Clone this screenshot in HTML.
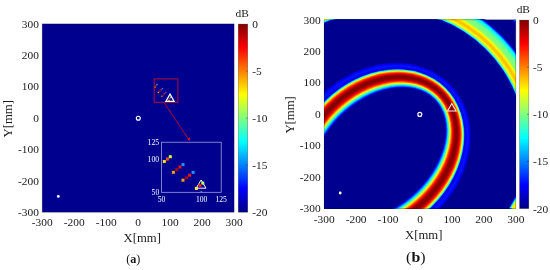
<!DOCTYPE html>
<html lang="en"><head><meta charset="utf-8"><title>Figure</title>
<style>html,body{margin:0;padding:0;background:#fff;}body{width:550px;height:270px;overflow:hidden;}svg{display:block;font-family:'Liberation Serif', 'DejaVu Serif', serif;}</style>
</head><body>
<svg width="550" height="270" viewBox="0 0 550 270">
<defs>
<linearGradient id="jet" x1="0" y1="0" x2="0" y2="1"><stop offset="0" stop-color="#800000"/><stop offset="0.125" stop-color="#ff0000"/><stop offset="0.375" stop-color="#ffff00"/><stop offset="0.625" stop-color="#00ffff"/><stop offset="0.875" stop-color="#0000ff"/><stop offset="1" stop-color="#000083"/></linearGradient>
<clipPath id="clipR"><rect x="324.20" y="19.80" width="191.60" height="188.80"/></clipPath>
<radialGradient id="cg" cx="1" cy="0" r="1"><stop offset="0" stop-color="#30d0ff"/><stop offset="0.45" stop-color="#0030ff" stop-opacity="0.8"/><stop offset="1" stop-color="#0000c0" stop-opacity="0"/></radialGradient>
<linearGradient id="brg" gradientUnits="userSpaceOnUse" x1="507.6" y1="208.6" x2="513.4" y2="211.9"><stop offset="0" stop-color="#00008f"/><stop offset="0.14" stop-color="#0000f0"/><stop offset="0.3" stop-color="#00e0ff"/><stop offset="0.42" stop-color="#80ff80"/><stop offset="0.56" stop-color="#f8f800"/><stop offset="1" stop-color="#ffd800"/></linearGradient>
</defs>
<rect width="550" height="270" fill="#fff"/>
<rect x="42.20" y="23.90" width="191.90" height="188.30" fill="#00008f"/>
<circle cx="138.3" cy="118.2" r="1.95" fill="none" stroke="#fff" stroke-width="1.2"/>
<circle cx="58.3" cy="196.4" r="1.4" fill="#fff"/>
<circle cx="154.80" cy="87.40" r="0.8" fill="#ffb000"/><circle cx="155.90" cy="86.00" r="0.8" fill="#d04040"/><circle cx="157.00" cy="84.60" r="0.8" fill="#40a0c0"/>
<circle cx="158.40" cy="92.40" r="0.8" fill="#ff9000"/><circle cx="159.73" cy="91.13" r="0.8" fill="#c01020"/><circle cx="161.07" cy="89.87" r="0.8" fill="#e02020"/><circle cx="162.40" cy="88.60" r="0.8" fill="#3080ff"/>
<circle cx="161.90" cy="96.30" r="0.8" fill="#ff9000"/><circle cx="163.23" cy="94.97" r="0.8" fill="#c01020"/><circle cx="164.57" cy="93.63" r="0.8" fill="#e02020"/><circle cx="165.90" cy="92.30" r="0.8" fill="#3080ff"/>
<circle cx="170.4" cy="97.2" r="0.8" fill="#80e060"/><circle cx="169.8" cy="98.6" r="0.8" fill="#e03020"/><circle cx="169.0" cy="100.2" r="0.8" fill="#f0e040"/>
<rect x="154.2" y="78.9" width="23.7" height="23.4" fill="none" stroke="#b01030" stroke-width="1"/>
<path d="M170.00 94.00 L174.10 101.40 L165.90 101.40 Z" fill="none" stroke="#fff" stroke-width="1.25" stroke-linejoin="miter"/>
<line x1="164.2" y1="102.7" x2="188.6" y2="139.3" stroke="#c00828" stroke-width="0.9"/>
<path d="M189.7 141.0 L187.2 138.9 L189.9 137.6 Z" fill="#ff1010"/>
<rect x="161.4" y="142.2" width="59.8" height="50.1" fill="none" stroke="#c4c4ec" stroke-opacity="0.85" stroke-width="0.75"/>
<line x1="201.2" y1="192.3" x2="201.2" y2="190.8" stroke="#d8d8f0" stroke-width="0.8"/>
<path d="M201.10 180.00 L206.00 188.20 L196.20 188.20 Z" fill="none" stroke="#fff" stroke-width="0.95" stroke-linejoin="miter"/>
<rect x="162.80" y="160.00" width="3.00" height="3.00" fill="#ffe020"/>
<rect x="165.90" y="157.60" width="3.00" height="3.00" fill="#ff5010"/>
<rect x="168.80" y="155.20" width="3.00" height="3.00" fill="#c8ff40"/>
<rect x="171.90" y="170.80" width="3.00" height="3.00" fill="#ffa010"/>
<rect x="175.30" y="168.10" width="3.00" height="3.00" fill="#b00000"/>
<rect x="178.40" y="165.50" width="3.00" height="3.00" fill="#f01010"/>
<rect x="181.50" y="163.10" width="3.00" height="3.00" fill="#2090ff"/>
<rect x="181.50" y="178.70" width="3.00" height="3.00" fill="#ffa010"/>
<rect x="184.90" y="176.30" width="3.00" height="3.00" fill="#b00000"/>
<rect x="188.00" y="173.70" width="3.00" height="3.00" fill="#f01010"/>
<rect x="191.60" y="170.90" width="3.00" height="3.00" fill="#2090ff"/>
<rect x="201.30" y="181.60" width="3.00" height="3.00" fill="#c0ff50"/>
<rect x="198.40" y="184.10" width="3.00" height="3.00" fill="#f02010"/>
<rect x="194.90" y="186.90" width="3.00" height="3.00" fill="#fff040"/>
<text x="159.00" y="144.80" font-size="7.60" text-anchor="end" fill="#fff">125</text>
<text x="159.00" y="161.80" font-size="7.60" text-anchor="end" fill="#fff">100</text>
<text x="159.20" y="195.00" font-size="7.60" text-anchor="end" fill="#fff">50</text>
<text x="161.50" y="201.90" font-size="7.60" text-anchor="middle" fill="#fff">50</text>
<text x="201.60" y="201.90" font-size="7.60" text-anchor="middle" fill="#fff">100</text>
<text x="221.20" y="201.90" font-size="7.60" text-anchor="middle" fill="#fff">125</text>
<rect x="42.20" y="23.90" width="191.90" height="188.30" fill="none" stroke="#000" stroke-opacity="0.35" stroke-width="0.7"/>
<text x="38.90" y="27.65" font-size="11.40" text-anchor="end" fill="#1a1a1a">300</text>
<text x="38.90" y="59.03" font-size="11.40" text-anchor="end" fill="#1a1a1a">200</text>
<text x="38.90" y="90.42" font-size="11.40" text-anchor="end" fill="#1a1a1a">100</text>
<text x="38.90" y="121.80" font-size="11.40" text-anchor="end" fill="#1a1a1a">0</text>
<text x="38.90" y="153.18" font-size="11.40" text-anchor="end" fill="#1a1a1a">-100</text>
<text x="38.90" y="184.57" font-size="11.40" text-anchor="end" fill="#1a1a1a">-200</text>
<text x="38.90" y="215.95" font-size="11.40" text-anchor="end" fill="#1a1a1a">-300</text>
<text x="42.20" y="226.30" font-size="11.40" text-anchor="middle" fill="#1a1a1a">-300</text>
<text x="74.18" y="226.30" font-size="11.40" text-anchor="middle" fill="#1a1a1a">-200</text>
<text x="106.17" y="226.30" font-size="11.40" text-anchor="middle" fill="#1a1a1a">-100</text>
<text x="138.15" y="226.30" font-size="11.40" text-anchor="middle" fill="#1a1a1a">0</text>
<text x="170.13" y="226.30" font-size="11.40" text-anchor="middle" fill="#1a1a1a">100</text>
<text x="202.12" y="226.30" font-size="11.40" text-anchor="middle" fill="#1a1a1a">200</text>
<text x="234.10" y="226.30" font-size="11.40" text-anchor="middle" fill="#1a1a1a">300</text>
<text x="142.20" y="241.70" font-size="12.70" text-anchor="middle" fill="#1a1a1a">X[mm]</text>
<text transform="translate(12.30,118.80) rotate(-90)" font-size="12.70" text-anchor="middle" fill="#1a1a1a">Y[mm]</text>
<rect x="238.30" y="24.10" width="9.40" height="188.10" fill="url(#jet)" stroke="#000" stroke-opacity="0.4" stroke-width="0.6"/>
<text x="252.30" y="28.00" font-size="11.40" text-anchor="start" fill="#1a1a1a">0</text>
<text x="252.30" y="75.03" font-size="11.40" text-anchor="start" fill="#1a1a1a">-5</text>
<line x1="245.90" y1="71.12" x2="247.70" y2="71.12" stroke="#000" stroke-opacity="0.55" stroke-width="0.6"/>
<text x="252.30" y="122.05" font-size="11.40" text-anchor="start" fill="#1a1a1a">-10</text>
<line x1="245.90" y1="118.15" x2="247.70" y2="118.15" stroke="#000" stroke-opacity="0.55" stroke-width="0.6"/>
<text x="252.30" y="169.07" font-size="11.40" text-anchor="start" fill="#1a1a1a">-15</text>
<line x1="245.90" y1="165.17" x2="247.70" y2="165.17" stroke="#000" stroke-opacity="0.55" stroke-width="0.6"/>
<text x="252.30" y="216.10" font-size="11.40" text-anchor="start" fill="#1a1a1a">-20</text>
<text x="242.20" y="17.10" font-size="11.40" text-anchor="middle" fill="#1a1a1a">dB</text>
<rect x="324.20" y="19.80" width="191.60" height="188.80" fill="#00008f"/>
<g clip-path="url(#clipR)"><g transform="translate(420.00,114.20) scale(0.31933,-0.31467)">
<g transform="translate(-11.74,-9.28)"><g transform="translate(-125.00,-125.00) rotate(45.000)">
<ellipse rx="554.7" ry="525.8" fill="#00008f"/>
<ellipse rx="554.0" ry="525.0" fill="#00008f"/>
<ellipse rx="553.2" ry="524.2" fill="#00008f"/>
<ellipse rx="552.5" ry="523.4" fill="#00008f"/>
<ellipse rx="551.7" ry="522.6" fill="#0000a3"/>
<ellipse rx="551.0" ry="521.8" fill="#0000b6"/>
<ellipse rx="550.2" ry="521.0" fill="#0000c9"/>
<ellipse rx="549.5" ry="520.2" fill="#0000dc"/>
<ellipse rx="548.7" ry="519.4" fill="#0000ef"/>
<ellipse rx="548.0" ry="518.7" fill="#0006ff"/>
<ellipse rx="547.2" ry="517.9" fill="#002dff"/>
<ellipse rx="546.5" ry="517.1" fill="#0053ff"/>
<ellipse rx="545.7" ry="516.3" fill="#0079ff"/>
<ellipse rx="545.0" ry="515.5" fill="#0092ff"/>
<ellipse rx="544.2" ry="514.7" fill="#00a8ff"/>
<ellipse rx="543.5" ry="513.9" fill="#00beff"/>
<ellipse rx="542.7" ry="513.1" fill="#00d4ff"/>
<ellipse rx="542.0" ry="512.3" fill="#00eaff"/>
<ellipse rx="541.2" ry="511.5" fill="#00f8ff"/>
<ellipse rx="540.5" ry="510.7" fill="#00ffff"/>
<ellipse rx="539.7" ry="509.9" fill="#07fff8"/>
<ellipse rx="539.0" ry="509.1" fill="#0ffff0"/>
<ellipse rx="538.2" ry="508.3" fill="#16ffe9"/>
<ellipse rx="537.5" ry="507.5" fill="#1dffe2"/>
<ellipse rx="536.7" ry="506.8" fill="#24ffdb"/>
<ellipse rx="536.0" ry="506.0" fill="#2bffd4"/>
<ellipse rx="535.2" ry="505.2" fill="#32ffcd"/>
<ellipse rx="534.5" ry="504.4" fill="#3bffc4"/>
<ellipse rx="533.7" ry="503.6" fill="#46ffb9"/>
<ellipse rx="533.0" ry="502.8" fill="#50ffaf"/>
<ellipse rx="532.2" ry="502.0" fill="#5affa5"/>
<ellipse rx="531.5" ry="501.2" fill="#64ff9b"/>
<ellipse rx="530.7" ry="500.4" fill="#6eff91"/>
<ellipse rx="530.0" ry="499.6" fill="#71ff8e"/>
<ellipse rx="529.2" ry="498.8" fill="#73ff8c"/>
<ellipse rx="528.5" ry="498.0" fill="#74ff8b"/>
<ellipse rx="527.7" ry="497.2" fill="#76ff89"/>
<ellipse rx="527.0" ry="496.4" fill="#77ff88"/>
<ellipse rx="526.2" ry="495.6" fill="#79ff86"/>
<ellipse rx="525.5" ry="494.8" fill="#7aff85"/>
<ellipse rx="524.7" ry="494.0" fill="#7cff83"/>
<ellipse rx="524.0" ry="493.2" fill="#7dff82"/>
<ellipse rx="523.2" ry="492.4" fill="#7fff80"/>
<ellipse rx="522.5" ry="491.6" fill="#80ff7f"/>
<ellipse rx="521.7" ry="490.8" fill="#82ff7d"/>
<ellipse rx="521.0" ry="490.0" fill="#83ff7c"/>
<ellipse rx="520.2" ry="489.2" fill="#85ff7a"/>
<ellipse rx="519.5" ry="488.4" fill="#86ff79"/>
<ellipse rx="518.7" ry="487.6" fill="#87ff78"/>
<ellipse rx="518.0" ry="486.8" fill="#89ff76"/>
<ellipse rx="517.2" ry="486.1" fill="#90ff6f"/>
<ellipse rx="516.5" ry="485.3" fill="#9eff61"/>
<ellipse rx="515.7" ry="484.5" fill="#abff54"/>
<ellipse rx="515.0" ry="483.7" fill="#b9ff46"/>
<ellipse rx="514.2" ry="482.9" fill="#c6ff39"/>
<ellipse rx="513.5" ry="482.1" fill="#d4ff2b"/>
<ellipse rx="512.7" ry="481.3" fill="#e1ff1e"/>
<ellipse rx="511.9" ry="480.5" fill="#efff10"/>
<ellipse rx="511.2" ry="479.7" fill="#fdff02"/>
<ellipse rx="510.4" ry="478.9" fill="#fff900"/>
<ellipse rx="509.7" ry="478.1" fill="#fff100"/>
<ellipse rx="508.9" ry="477.3" fill="#ffe900"/>
<ellipse rx="508.2" ry="476.5" fill="#ffe200"/>
<ellipse rx="507.4" ry="475.7" fill="#ffda00"/>
<ellipse rx="506.7" ry="474.9" fill="#ffd200"/>
<ellipse rx="505.9" ry="474.1" fill="#ffce00"/>
<ellipse rx="505.2" ry="473.3" fill="#ffca00"/>
<ellipse rx="504.4" ry="472.5" fill="#ffc600"/>
<ellipse rx="503.7" ry="471.7" fill="#ffc200"/>
<ellipse rx="502.9" ry="470.9" fill="#ffbf00"/>
<ellipse rx="502.2" ry="470.1" fill="#ffbe00"/>
<ellipse rx="501.4" ry="469.3" fill="#ffc200"/>
<ellipse rx="500.7" ry="468.5" fill="#ffc500"/>
<ellipse rx="499.9" ry="467.7" fill="#ffc800"/>
<ellipse rx="499.2" ry="466.9" fill="#ffcb00"/>
<ellipse rx="498.4" ry="466.0" fill="#ffd200"/>
<ellipse rx="497.7" ry="465.2" fill="#ffda00"/>
<ellipse rx="496.9" ry="464.4" fill="#ffe200"/>
<ellipse rx="496.2" ry="463.6" fill="#ffe900"/>
<ellipse rx="495.4" ry="462.8" fill="#fff100"/>
<ellipse rx="494.7" ry="462.0" fill="#fff900"/>
<ellipse rx="493.9" ry="461.2" fill="#fcff03"/>
<ellipse rx="493.2" ry="460.4" fill="#ebff14"/>
<ellipse rx="492.4" ry="459.6" fill="#daff25"/>
<ellipse rx="491.7" ry="458.8" fill="#c9ff36"/>
<ellipse rx="490.9" ry="458.0" fill="#b8ff47"/>
<ellipse rx="490.2" ry="457.2" fill="#a7ff58"/>
<ellipse rx="489.4" ry="456.4" fill="#94ff6b"/>
<ellipse rx="488.7" ry="455.6" fill="#78ff87"/>
<ellipse rx="487.9" ry="454.8" fill="#5bffa4"/>
<ellipse rx="487.2" ry="454.0" fill="#3effc1"/>
<ellipse rx="486.4" ry="453.2" fill="#21ffde"/>
<ellipse rx="485.7" ry="452.4" fill="#05fffa"/>
<ellipse rx="484.9" ry="451.6" fill="#00bfff"/>
<ellipse rx="484.2" ry="450.8" fill="#0073ff"/>
<ellipse rx="483.4" ry="450.0" fill="#0026ff"/>
<ellipse rx="482.7" ry="449.2" fill="#0000ec"/>
<ellipse rx="481.9" ry="448.4" fill="#0000c6"/>
<ellipse rx="481.2" ry="447.6" fill="#00009f"/>
<ellipse rx="480.4" ry="446.7" fill="#00008f"/>
<ellipse rx="479.7" ry="445.9" fill="#00008f"/>
<ellipse rx="478.9" ry="445.1" fill="#00008f"/>
</g></g>
<g transform="translate(-4.38,-0.00)"><g transform="translate(-125.00,-125.00) rotate(45.000)">
<ellipse rx="322.2" ry="269.4" fill="#00008f"/>
<ellipse rx="321.5" ry="268.5" fill="#00008f"/>
<ellipse rx="320.8" ry="267.6" fill="#00008f"/>
<ellipse rx="320.0" ry="266.7" fill="#00008f"/>
<ellipse rx="319.2" ry="265.8" fill="#00008f"/>
<ellipse rx="318.5" ry="264.9" fill="#00008f"/>
<ellipse rx="317.8" ry="264.0" fill="#00008f"/>
<ellipse rx="317.0" ry="263.1" fill="#00008f"/>
<ellipse rx="316.2" ry="262.2" fill="#000089"/>
<ellipse rx="315.5" ry="261.3" fill="#00009c"/>
<ellipse rx="314.8" ry="260.4" fill="#0000ad"/>
<ellipse rx="314.0" ry="259.5" fill="#0000be"/>
<ellipse rx="313.2" ry="258.6" fill="#0000cc"/>
<ellipse rx="312.5" ry="257.7" fill="#0000da"/>
<ellipse rx="311.8" ry="256.8" fill="#0000e5"/>
<ellipse rx="311.0" ry="255.9" fill="#0000f0"/>
<ellipse rx="310.2" ry="255.0" fill="#0000f9"/>
<ellipse rx="309.5" ry="254.0" fill="#0002ff"/>
<ellipse rx="308.8" ry="253.1" fill="#0008ff"/>
<ellipse rx="308.0" ry="252.2" fill="#000dff"/>
<ellipse rx="307.2" ry="251.3" fill="#0011ff"/>
<ellipse rx="306.5" ry="250.4" fill="#0013ff"/>
<ellipse rx="305.8" ry="249.5" fill="#0014ff"/>
<ellipse rx="305.0" ry="248.5" fill="#0014ff"/>
<ellipse rx="304.2" ry="247.6" fill="#0012ff"/>
<ellipse rx="303.5" ry="246.7" fill="#000fff"/>
<ellipse rx="302.8" ry="245.8" fill="#000aff"/>
<ellipse rx="302.0" ry="244.9" fill="#0004ff"/>
<ellipse rx="301.2" ry="243.9" fill="#0000fc"/>
<ellipse rx="300.5" ry="243.0" fill="#0000f3"/>
<ellipse rx="299.8" ry="242.1" fill="#0000e9"/>
<ellipse rx="299.0" ry="241.1" fill="#0000de"/>
<ellipse rx="298.2" ry="240.2" fill="#0000d1"/>
<ellipse rx="297.5" ry="239.3" fill="#0000c3"/>
<ellipse rx="296.8" ry="238.3" fill="#000dff"/>
<ellipse rx="296.0" ry="237.4" fill="#005fff"/>
<ellipse rx="295.2" ry="236.5" fill="#00a8ff"/>
<ellipse rx="294.5" ry="235.5" fill="#00eaff"/>
<ellipse rx="293.8" ry="234.6" fill="#28ffd7"/>
<ellipse rx="293.0" ry="233.7" fill="#5fffa0"/>
<ellipse rx="292.2" ry="232.7" fill="#92ff6d"/>
<ellipse rx="291.5" ry="231.8" fill="#c1ff3e"/>
<ellipse rx="290.8" ry="230.8" fill="#ecff13"/>
<ellipse rx="290.0" ry="229.9" fill="#ffea00"/>
<ellipse rx="289.2" ry="228.9" fill="#ffc500"/>
<ellipse rx="288.5" ry="228.0" fill="#ffa300"/>
<ellipse rx="287.8" ry="227.0" fill="#ff8300"/>
<ellipse rx="287.0" ry="226.1" fill="#ff6600"/>
<ellipse rx="286.2" ry="225.1" fill="#ff4b00"/>
<ellipse rx="285.5" ry="224.2" fill="#ff3200"/>
<ellipse rx="284.8" ry="223.2" fill="#ff1b00"/>
<ellipse rx="284.0" ry="222.3" fill="#ff0500"/>
<ellipse rx="283.2" ry="221.3" fill="#f10000"/>
<ellipse rx="282.5" ry="220.4" fill="#df0000"/>
<ellipse rx="281.8" ry="219.4" fill="#cf0000"/>
<ellipse rx="281.0" ry="218.4" fill="#c10000"/>
<ellipse rx="280.2" ry="217.5" fill="#b40000"/>
<ellipse rx="279.5" ry="216.5" fill="#a90000"/>
<ellipse rx="278.8" ry="215.5" fill="#9f0000"/>
<ellipse rx="278.0" ry="214.6" fill="#960000"/>
<ellipse rx="277.2" ry="213.6" fill="#8f0000"/>
<ellipse rx="276.5" ry="212.6" fill="#890000"/>
<ellipse rx="275.8" ry="211.6" fill="#850000"/>
<ellipse rx="275.0" ry="210.7" fill="#820000"/>
<ellipse rx="274.2" ry="209.7" fill="#800000"/>
<ellipse rx="273.5" ry="208.7" fill="#800000"/>
<ellipse rx="272.8" ry="207.7" fill="#800000"/>
<ellipse rx="272.0" ry="206.7" fill="#830000"/>
<ellipse rx="271.2" ry="205.7" fill="#860000"/>
<ellipse rx="270.5" ry="204.7" fill="#8b0000"/>
<ellipse rx="269.8" ry="203.8" fill="#910000"/>
<ellipse rx="269.0" ry="202.8" fill="#990000"/>
<ellipse rx="268.2" ry="201.8" fill="#a20000"/>
<ellipse rx="267.5" ry="200.8" fill="#ac0000"/>
<ellipse rx="266.8" ry="199.8" fill="#b80000"/>
<ellipse rx="266.0" ry="198.8" fill="#c60000"/>
<ellipse rx="265.2" ry="197.8" fill="#d50000"/>
<ellipse rx="264.5" ry="196.7" fill="#e50000"/>
<ellipse rx="263.8" ry="195.7" fill="#f70000"/>
<ellipse rx="263.0" ry="194.7" fill="#ff0c00"/>
<ellipse rx="262.2" ry="193.7" fill="#ff2200"/>
<ellipse rx="261.5" ry="192.7" fill="#ff3a00"/>
<ellipse rx="260.8" ry="191.7" fill="#ff5300"/>
<ellipse rx="260.0" ry="190.7" fill="#ff6f00"/>
<ellipse rx="259.2" ry="189.6" fill="#ff8d00"/>
<ellipse rx="258.5" ry="188.6" fill="#ffae00"/>
<ellipse rx="257.8" ry="187.6" fill="#ffd100"/>
<ellipse rx="257.0" ry="186.5" fill="#fff700"/>
<ellipse rx="256.2" ry="185.5" fill="#e4ff1b"/>
<ellipse rx="255.5" ry="184.5" fill="#c3ff3c"/>
<ellipse rx="254.8" ry="183.4" fill="#a2ff5d"/>
<ellipse rx="254.0" ry="182.4" fill="#81ff7e"/>
<ellipse rx="253.2" ry="181.3" fill="#5fffa0"/>
<ellipse rx="252.5" ry="180.3" fill="#3effc1"/>
<ellipse rx="251.8" ry="179.2" fill="#1dffe2"/>
<ellipse rx="251.0" ry="178.2" fill="#00faff"/>
<ellipse rx="250.2" ry="177.1" fill="#00d9ff"/>
<ellipse rx="249.5" ry="176.1" fill="#00b8ff"/>
<ellipse rx="248.8" ry="175.0" fill="#0097ff"/>
<ellipse rx="248.0" ry="173.9" fill="#0075ff"/>
<ellipse rx="247.2" ry="172.9" fill="#0054ff"/>
<ellipse rx="246.5" ry="171.8" fill="#0033ff"/>
<ellipse rx="245.8" ry="170.7" fill="#0011ff"/>
<ellipse rx="245.0" ry="169.6" fill="#0000ef"/>
<ellipse rx="244.2" ry="168.5" fill="#0000ce"/>
<ellipse rx="243.5" ry="167.5" fill="#0000ad"/>
<ellipse rx="242.8" ry="166.4" fill="#00008b"/>
<ellipse rx="242.0" ry="165.3" fill="#00008f"/>
<ellipse rx="241.2" ry="164.2" fill="#00008f"/>
<ellipse rx="240.5" ry="163.1" fill="#00008f"/>
</g></g>
</g>
<polygon points="507.6,208.8 516,193.2 516,208.8" fill="url(#brg)"/>
</g>
<rect x="511.30" y="19.80" width="4.5" height="4.5" fill="url(#cg)"/>
<circle cx="419.8" cy="114.4" r="1.95" fill="none" stroke="#fff" stroke-width="1.2"/>
<circle cx="340.2" cy="193.0" r="1.4" fill="#fff"/>
<path d="M451.80 103.60 L456.05 110.90 L447.55 110.90 Z" fill="none" stroke="#ffecec" stroke-width="1.05" stroke-linejoin="miter"/>
<rect x="324.20" y="19.80" width="191.60" height="188.80" fill="none" stroke="#000" stroke-opacity="0.35" stroke-width="0.7"/>
<text x="320.70" y="23.55" font-size="11.40" text-anchor="end" fill="#1a1a1a">300</text>
<text x="320.70" y="55.02" font-size="11.40" text-anchor="end" fill="#1a1a1a">200</text>
<text x="320.70" y="86.48" font-size="11.40" text-anchor="end" fill="#1a1a1a">100</text>
<text x="320.70" y="117.95" font-size="11.40" text-anchor="end" fill="#1a1a1a">0</text>
<text x="320.70" y="149.42" font-size="11.40" text-anchor="end" fill="#1a1a1a">-100</text>
<text x="320.70" y="180.88" font-size="11.40" text-anchor="end" fill="#1a1a1a">-200</text>
<text x="320.70" y="212.35" font-size="11.40" text-anchor="end" fill="#1a1a1a">-300</text>
<text x="324.20" y="222.50" font-size="11.40" text-anchor="middle" fill="#1a1a1a">-300</text>
<text x="356.13" y="222.50" font-size="11.40" text-anchor="middle" fill="#1a1a1a">-200</text>
<text x="388.07" y="222.50" font-size="11.40" text-anchor="middle" fill="#1a1a1a">-100</text>
<text x="420.00" y="222.50" font-size="11.40" text-anchor="middle" fill="#1a1a1a">0</text>
<text x="451.93" y="222.50" font-size="11.40" text-anchor="middle" fill="#1a1a1a">100</text>
<text x="483.87" y="222.50" font-size="11.40" text-anchor="middle" fill="#1a1a1a">200</text>
<text x="515.80" y="222.50" font-size="11.40" text-anchor="middle" fill="#1a1a1a">300</text>
<text x="423.80" y="238.60" font-size="12.70" text-anchor="middle" fill="#1a1a1a">X[mm]</text>
<text transform="translate(294.30,114.95) rotate(-90)" font-size="12.70" text-anchor="middle" fill="#1a1a1a">Y[mm]</text>
<rect x="519.60" y="20.10" width="9.20" height="188.50" fill="url(#jet)" stroke="#000" stroke-opacity="0.4" stroke-width="0.6"/>
<text x="533.00" y="24.00" font-size="11.40" text-anchor="start" fill="#1a1a1a">0</text>
<text x="533.00" y="71.12" font-size="11.40" text-anchor="start" fill="#1a1a1a">-5</text>
<line x1="527.00" y1="67.22" x2="528.80" y2="67.22" stroke="#000" stroke-opacity="0.55" stroke-width="0.6"/>
<text x="533.00" y="118.25" font-size="11.40" text-anchor="start" fill="#1a1a1a">-10</text>
<line x1="527.00" y1="114.35" x2="528.80" y2="114.35" stroke="#000" stroke-opacity="0.55" stroke-width="0.6"/>
<text x="533.00" y="165.38" font-size="11.40" text-anchor="start" fill="#1a1a1a">-15</text>
<line x1="527.00" y1="161.47" x2="528.80" y2="161.47" stroke="#000" stroke-opacity="0.55" stroke-width="0.6"/>
<text x="533.00" y="212.50" font-size="11.40" text-anchor="start" fill="#1a1a1a">-20</text>
<text x="523.30" y="13.20" font-size="11.40" text-anchor="middle" fill="#1a1a1a">dB</text>
<text transform="translate(133.3,263.4) scale(0.9,1)" font-size="13.5" text-anchor="middle" fill="#111">(<tspan font-weight="bold">a</tspan>)</text>
<text transform="translate(415.8,262.4) scale(1.06,1)" font-size="15" text-anchor="middle" fill="#111">(<tspan font-weight="bold">b</tspan>)</text>
</svg></body></html>
